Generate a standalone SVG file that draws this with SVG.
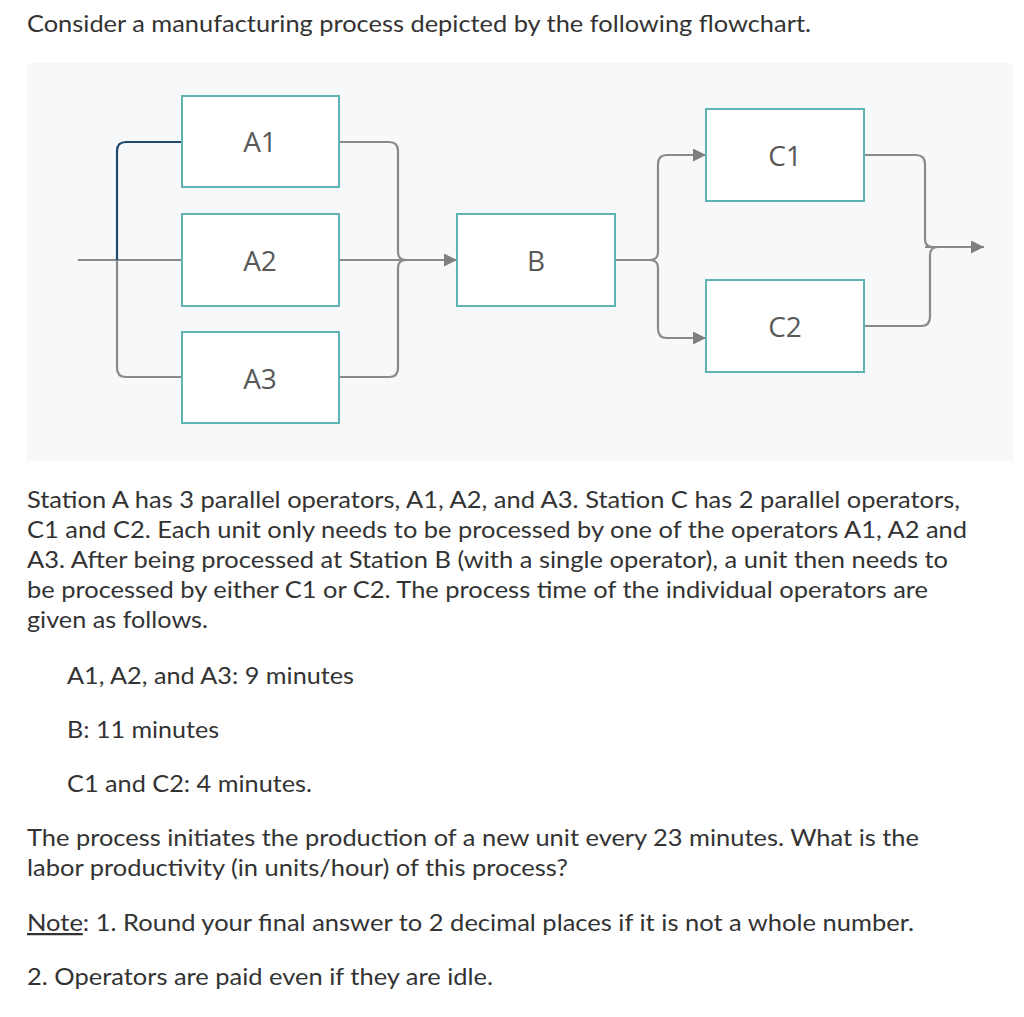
<svg xmlns="http://www.w3.org/2000/svg" width="1024" height="1017" viewBox="0 0 1024 1017">
<defs>
<style>
.body{font-family:Lato,"Liberation Sans",sans-serif;font-size:22.5px;fill:#333333}
.box{fill:#ffffff;stroke:#5fb3b3;stroke-width:2}
.lbl{font-family:"Open Sans","Liberation Sans",sans-serif;font-size:28px;fill:#595959;text-anchor:middle}
.c{fill:none;stroke:#8a8a8a;stroke-width:2.2}
.cd{fill:none;stroke:#1f4a6e;stroke-width:2.2}
</style>
<marker id="ah" viewBox="0 0 10 10" refX="10" refY="5" markerWidth="13" markerHeight="13" markerUnits="userSpaceOnUse" orient="auto">
<path d="M0,0 L10,5 L0,10 z" fill="#7f7f7f"/>
</marker>
</defs>
<rect width="1024" height="1017" fill="#ffffff"/>
<text class="body" x="27" y="32" textLength="784" lengthAdjust="spacingAndGlyphs">Consider a manufacturing process depicted by the following flowchart.</text>
<rect x="27" y="63" width="986" height="398" fill="#f7f8fa"/>
<g id="connectors">
<path class="c" d="M78,260 H182"/>
<path class="c" d="M117,260 V368 Q117,377 126,377 H182"/>
<path class="cd" d="M117,260 V151 Q117,142 126,142 H182"/>
<path class="c" d="M339,142 H389 Q398,142 398,151 V252 Q398,260 406,260"/>
<path class="c" d="M339,377 H389 Q398,377 398,368 V268 Q398,260 406,260"/>
<path class="c" d="M339,260 H457" marker-end="url(#ah)"/>
<path class="c" d="M615,260 H650 Q658,260 658,268 V329 Q658,338 667,338 H706" marker-end="url(#ah)"/>
<path class="c" d="M650,260 Q658,260 658,252 V164 Q658,155 667,155 H706" marker-end="url(#ah)"/>
<path class="c" d="M864,155 H916 Q925,155 925,164 V239 Q925,247 933,247"/>
<path class="c" d="M864,326 H921 Q930,326 930,317 V255 Q930,247 938,247"/>
<path class="c" d="M925,247 H984" marker-end="url(#ah)"/>
</g>
<g id="A1"><rect class="box" x="182" y="96" width="157" height="91"/><text class="lbl" x="260" y="152">A1</text></g>
<g id="A2"><rect class="box" x="182" y="214" width="157" height="92"/><text class="lbl" x="260" y="271">A2</text></g>
<g id="A3"><rect class="box" x="182" y="332" width="157" height="91"/><text class="lbl" x="260" y="389">A3</text></g>
<g id="B"><rect class="box" x="457" y="214" width="158" height="92"/><text class="lbl" x="536" y="271">B</text></g>
<g id="C1"><rect class="box" x="706" y="109" width="158" height="92"/><text class="lbl" x="785" y="166">C1</text></g>
<g id="C2"><rect class="box" x="706" y="280" width="158" height="92"/><text class="lbl" x="785" y="337">C2</text></g>
<text class="body" x="27" y="508" textLength="933" lengthAdjust="spacingAndGlyphs">Station A has 3 parallel operators, A1, A2, and A3. Station C has 2 parallel operators,</text>
<text class="body" x="27" y="538" textLength="940" lengthAdjust="spacingAndGlyphs">C1 and C2. Each unit only needs to be processed by one of the operators A1, A2 and</text>
<text class="body" x="27" y="568" textLength="921" lengthAdjust="spacingAndGlyphs">A3. After being processed at Station B (with a single operator), a unit then needs to</text>
<text class="body" x="27" y="598" textLength="901" lengthAdjust="spacingAndGlyphs">be processed by either C1 or C2. The process time of the individual operators are</text>
<text class="body" x="27" y="628" textLength="181" lengthAdjust="spacingAndGlyphs">given as follows.</text>
<text class="body" x="67" y="684" textLength="287" lengthAdjust="spacingAndGlyphs">A1, A2, and A3: 9 minutes</text>
<text class="body" x="67" y="738" textLength="152" lengthAdjust="spacingAndGlyphs">B: 11 minutes</text>
<text class="body" x="67" y="792" textLength="245" lengthAdjust="spacingAndGlyphs">C1 and C2: 4 minutes.</text>
<text class="body" x="27" y="846" textLength="892" lengthAdjust="spacingAndGlyphs">The process initiates the production of a new unit every 23 minutes. What is the</text>
<text class="body" x="27" y="876" textLength="541" lengthAdjust="spacingAndGlyphs">labor productivity (in units/hour) of this process?</text>
<text class="body" x="27" y="931" textLength="887" lengthAdjust="spacingAndGlyphs"><tspan text-decoration="underline">Note</tspan>: 1. Round your final answer to 2 decimal places if it is not a whole number.</text>
<text class="body" x="27" y="985" textLength="466" lengthAdjust="spacingAndGlyphs">2. Operators are paid even if they are idle.</text>
</svg>
